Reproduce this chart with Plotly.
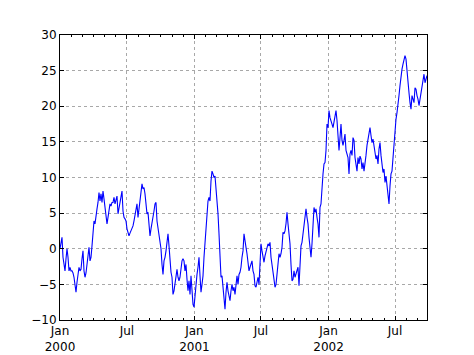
import pandas as pd
import plotly.graph_objects as go

start_date = "2000-01-01"
end_date = "2002-09-26"

values = [
    0.0, 1.1, 1.6, -1.2, -2.6, -3.1, -1.4, 0.0, -1.2, -3.1,
    -2.6, -3.1, -3.1, -3.4, -4.0, -5.2, -6.1, -4.7, -3.8, -2.6,
    -3.1, -2.9, -1.4, -0.3, -3.1, -4.0, -3.4, -2.4, -1.0, 0.2,
    -1.7, -1.2, 0.4, 2.1, 3.9, 3.5, 4.9, 5.6, 6.5, 7.9,
    6.7, 7.7, 6.5, 8.1, 7.0, 5.8, 4.9, 3.5, 4.4, 5.3,
    6.3, 6.0, 6.5, 6.5, 7.2, 6.3, 7.0, 7.4, 4.9, 5.6,
    6.5, 7.4, 8.1, 5.3, 4.4, 4.2, 3.9, 2.8, 2.2, 1.8,
    2.2, 2.5, 2.8, 3.2, 3.9, 4.9, 5.6, 6.3, 4.4, 5.6,
    6.7, 8.1, 9.1, 8.4, 8.6, 7.7, 6.3, 4.9, 5.1, 3.2,
    1.8, 2.8, 3.6, 3.9, 5.3, 6.3, 6.5, 3.9, 2.8, 1.6,
    0.9, 0.0, -2.2, -3.6, -1.7, -1.2, -0.3, 0.9, 2.1, 0.4,
    -1.7, -3.3, -4.0, -6.4, -5.9, -4.7, -4.0, -2.9, -4.0, -4.5,
    -4.0, -2.8, -1.7, -1.4, -1.7, -3.1, -2.2, -4.3, -5.9, -4.5,
    -6.4, -3.8, -6.8, -7.8, -8.2, -6.4, -4.3, -3.6, -2.6, -1.2,
    -3.8, -6.1, -5.0, -3.8, -1.2, 1.1, 3.0, 4.9, 6.7, 7.2,
    6.7, 9.5, 10.9, 10.5, 10.0, 10.2, 8.6, 7.2, 4.9, 2.1,
    -1.7, -4.0, -3.8, -5.7, -6.8, -8.5, -6.1, -4.7, -5.9, -6.6,
    -7.3, -5.9, -5.0, -5.9, -5.4, -6.4, -5.0, -3.8, -5.0, -3.6,
    -3.3, -2.6, -1.2, -0.3, 2.1, 1.4, 0.2, -0.7, -2.6, -3.1,
    -2.6, -2.2, -1.7, -3.1, -3.6, -5.2, -5.4, -4.7, -4.0, -5.0,
    -2.6, 0.7, -0.3, -1.2, -1.9, -1.0, -0.3, 0.2, 0.7, 0.4,
    0.9, -1.2, -2.2, -2.6, -4.3, -5.4, -5.0, -3.6, -1.7, -0.7,
    -1.2, -0.7, 0.2, 2.3, 2.1, 2.5, 3.5, 5.1, 3.5, 2.1,
    0.7, -2.2, -4.5, -4.3, -3.1, -4.0, -3.6, -3.3, -2.6, -5.2,
    -2.6, 0.4, 0.9, 2.1, 3.5, 4.4, 5.6, 4.4, 3.5, 1.6,
    -0.3, -1.2, 0.7, 3.5, 5.8, 5.1, 5.6, 4.4, 3.5, 1.6,
    5.8, 6.3, 9.5, 10.5, 11.9, 12.1, 13.8, 17.5, 17.0, 19.4,
    18.4, 17.7, 17.5, 17.0, 17.7, 18.4, 19.4, 18.0, 15.6, 13.8,
    15.6, 17.5, 15.2, 14.5, 15.2, 16.1, 13.8, 13.3, 12.8, 10.5,
    13.3, 13.8, 13.1, 15.6, 15.2, 12.8, 11.9, 10.9, 12.8, 11.9,
    13.0, 12.6, 11.2, 12.1, 10.9, 12.6, 13.1, 14.5, 15.4, 16.3,
    17.0, 15.9, 14.9, 15.4, 14.5, 13.5, 12.6, 13.1, 11.9, 14.0,
    14.9, 13.1, 12.1, 10.7, 11.2, 9.3, 10.2, 8.8, 7.4, 6.3,
    8.8, 10.5, 10.9, 13.1, 15.4, 16.8, 18.2, 19.1, 20.1, 21.5,
    22.9, 24.3, 25.2, 25.9, 26.6, 27.1, 26.6, 24.7, 23.8, 21.9,
    20.5, 19.6, 21.5, 21.0, 20.5, 22.6, 22.4, 21.5, 21.0, 20.1,
    21.0, 21.9, 22.4, 23.8, 24.5, 23.3, 24.0, 24.3,
]

dates = pd.date_range(start_date, end_date, periods=len(values))

x_tick_vals = ["2000-01-01", "2000-07-01", "2001-01-01", "2001-07-01", "2002-01-01", "2002-07-01"]
x_tick_text = ["Jan<br>2000", "Jul", "Jan<br>2001", "Jul", "Jan<br>2002", "Jul"]
y_tick_vals = [-10, -5, 0, 5, 10, 15, 20, 25, 30]
y_tick_text = ["\u221210", "\u22125", "0", "5", "10", "15", "20", "25", "30"]

fig = go.Figure()
fig.add_trace(go.Scatter(
    x=dates, y=values, mode="lines",
    line=dict(color="#0000ff", width=1.1),
    showlegend=False,
))

axis_common = dict(
    showline=True, linecolor="black", linewidth=1, mirror="allticks",
    ticks="inside", ticklen=4, tickcolor="black", tickwidth=1,
    showgrid=True, gridcolor="#a8a8a8", griddash="dot", gridwidth=1,
    zeroline=False, automargin=False,
    tickfont=dict(family="DejaVu Sans", size=12, color="black"),
)

fig.update_xaxes(
    type="date",
    range=[start_date, end_date],
    tickmode="array", tickvals=x_tick_vals, ticktext=x_tick_text,
    minor=dict(dtick="M1", ticks="inside", ticklen=2, tickcolor="black", showgrid=False),
    **axis_common,
)
fig.update_yaxes(
    range=[-10, 30],
    tickmode="array", tickvals=y_tick_vals, ticktext=y_tick_text,
    **axis_common,
)

fig.update_layout(
    width=474, height=355,
    margin=dict(l=60, r=47, t=35, b=35),
    paper_bgcolor="white", plot_bgcolor="white",
)

fig.write_html("out.html")
